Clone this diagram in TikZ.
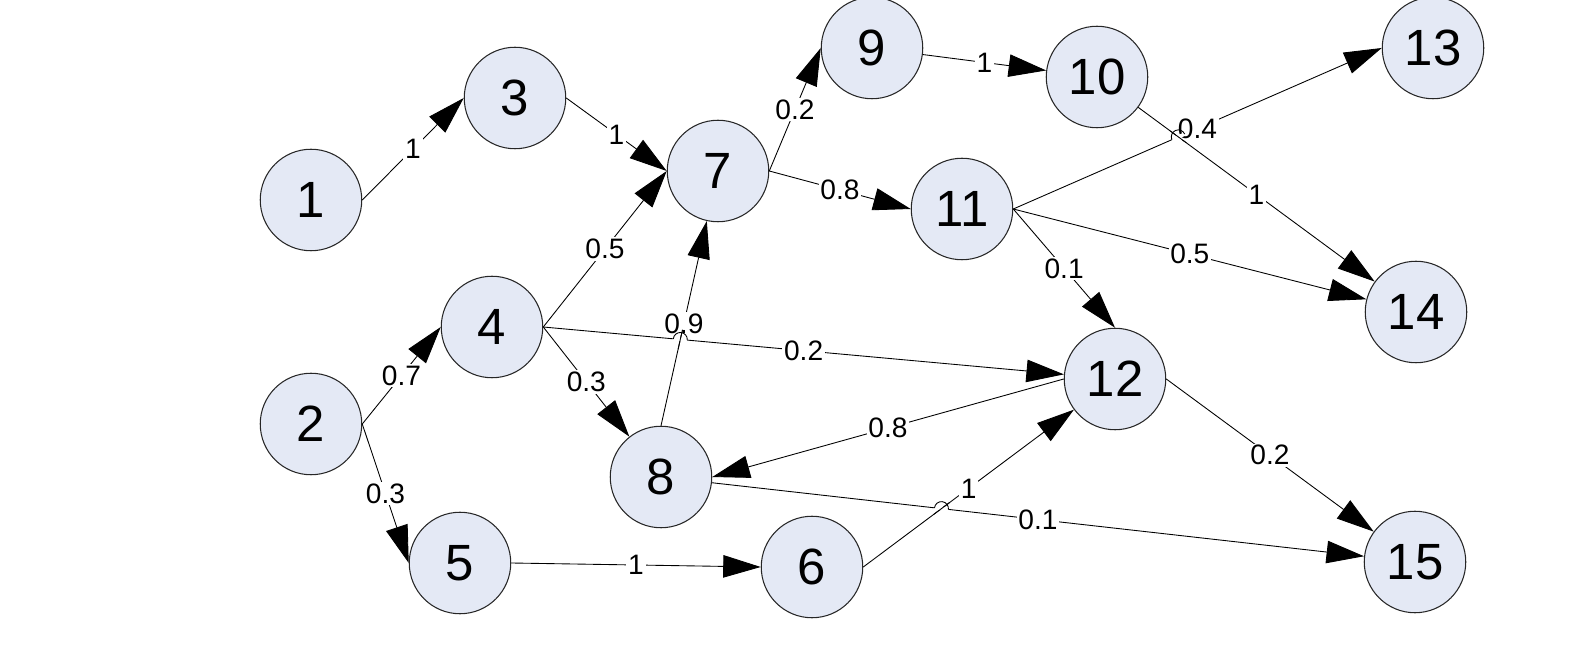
\documentclass[tikz,border=0pt]{standalone}
\usepackage{fontspec}
\setmainfont{Liberation Sans}
\usetikzlibrary{arrows.meta, intersections, calc}
\definecolor{statefill}{RGB}{228,233,245}
\tikzset{
	state/.style = {circle, minimum size=2.03cm, inner sep=0pt, draw=black!85, line width=0.6pt, fill=statefill, font=\fontsize{29}{30}\selectfont},
	trans/.style = {draw, line width=0.5pt, -{Triangle[length=7.5mm, width=4.5mm]}},
	prob/.style = {fill=white, inner sep=1pt, font=\fontsize{16}{17}\selectfont}
}
\begin{document}
\begin{tikzpicture}[node distance=4cm]
				\useasboundingbox (0,0) rectangle (31.8,13.16);
				% Define chain's states
				\node (s1) [state] at (6.22,9.16) {1};
				\node (s2) [state, below of=s1, yshift=-0.48cm] {2};
				\node (s3) [state, right of=s1, xshift=0.08cm, yshift=2.04cm] {3};
				\node (s4) [state, right of=s2, xshift=-0.38cm, yshift=1.94cm] {4};
				\node (s5) [state, right of=s2, xshift=-1.02cm, yshift=-2.78cm] {5};
				\node (s7) [state, right of=s3, xshift=0.06cm, yshift=-1.46cm] {7};
				\node (s8) [state, right of=s4, xshift=-0.62cm, yshift=-3cm] {8};
				\node (s6) [state, right of=s8, xshift=-0.98cm, yshift=-1.8cm] {6};
				\node (s9) [state, right of=s7, xshift=-0.92cm, yshift=2.46cm] {9};
				\node (s11) [state, right of=s7, xshift=0.88cm, yshift=-0.76cm] {11};
				\node (s10) [state, right of=s9, xshift=0.5cm, yshift=-0.58cm] {10};
				\node (s12) [state, right of=s11, xshift=-0.94cm, yshift=-3.4cm] {12};
				\node (s13) [state, right of=s10, xshift=2.72cm, yshift=0.58cm] {13};
				\node (s14) [state, below of=s13, xshift=-0.34cm, yshift=-1.28cm] {14};
				\node (s15) [state, below of=s14, xshift=-0.02cm, yshift=-1cm] {15};

				% Define chain's transitions
				\path [trans](s1.east) -- node[prob] {1} (s3.west);
				\path [trans](s3.east) -- node[prob] {1} (s7.west);
				\path [trans](s2.east) -- node[prob] {0.7} (s4.west);
				\path [trans](s2.east) -- node[prob] {0.3} (s5.west);
				\path [trans](s4.east) -- node[prob] {0.5} (s7.west);
				\path [trans](s4.east) -- node[prob] {0.3} (s8);
				\path [trans, name path=p4to12](s4.east) -- node[prob] {0.2} (s12);
				\path [trans, name path=p8to7](s8.north) -- node[prob] {0.9} (s7);
				\path [trans](s7.east) -- node[prob] {0.2} (s9.west);
				\path [trans](s7.east) -- node[prob] {0.8} (s11.west);
				\path [trans](s9) -- node[prob] {1} (s10);
				\path [trans, name path=p10to14](s10) -- node[prob] {1} (s14);
				\path [trans, name path=p11to13](s11.east) -- node[prob] {0.4} (s13.west);
				\path [trans](s11.east) -- node[prob] {0.5} (s14);
				\path [trans](s11.east) -- node[prob] {0.1} (s12.north);
				\path [trans](s12.west) -- node[prob] {0.8} (s8.east);
				\path [trans](s12.east) -- node[prob] {0.2} (s15);
				\path [trans, name path=p8to15](s8) -- node[prob] {0.1} (s15);
				\path [trans](s5.east) -- node[prob] {1} (s6.west);
				\path [trans, name path=p6to12](s6.east) -- node[prob] {1} (s12);

				% Define line hops
				\path [name intersections={of=p4to12 and p8to7, by=hopa}];
				\path [name intersections={of=p8to15 and p6to12, by=hopb}];
				\path [name intersections={of=p11to13 and p10to14, by=hopc}];
				\foreach \h/\a/\b/\c/\d/\ang in {hopa/s4.east/s12/s8.north/s7/-5.3, hopb/s8/s15/s6.east/s12/-6.4, hopc/s11.east/s13.west/s10/s14/23.6} {
					\draw [white, line width=2pt] ($(\h)!0.14cm!(\a)$) -- ($(\h)!0.14cm!(\b)$);
					\draw [line width=0.5pt] ($(\h)!0.2cm!(\c)$) -- ($(\h)!0.2cm!(\d)$);
					\draw [line width=0.5pt] ($(\h)!0.14cm!(\a)$) arc [start angle=\ang+180, end angle=\ang, radius=0.14cm];
				}
			\end{tikzpicture}
\end{document}
